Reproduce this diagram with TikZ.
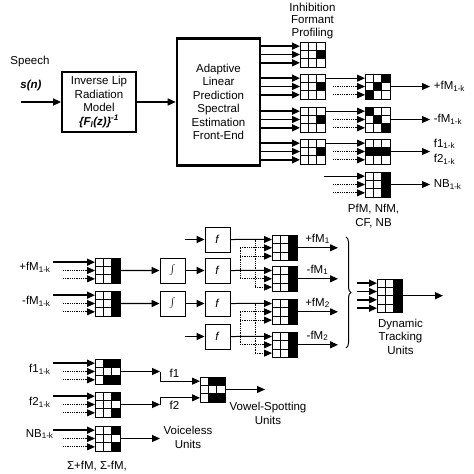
\documentclass[tikz,border=0pt]{standalone}
\usepackage{fontspec}
\setmainfont{Liberation Sans}
\usetikzlibrary{arrows.meta,positioning,decorations.pathreplacing}

% one 3-column unit of cells, named #1, top left corner at (#2,#3), #4 rows, black cells #5
\newcommand{\cw}{8.333}
\newcommand{\unitgrid}[5]{%
  \begin{scope}[shift={(#2,#3)}]
    \foreach \c/\r in {#5}
      \fill ({(\c-1)*\cw},{(\r-1)*\cw}) rectangle ({\c*\cw},{\r*\cw});
    \foreach \i in {1,2}
      \draw[cellline] ({\i*\cw},0) -- ({\i*\cw},{#4*\cw});
    \foreach \j in {2,...,#4}
      \draw[cellline] (0,{(\j-1)*\cw}) -- ({3*\cw},{(\j-1)*\cw});
    \node[gridbox, minimum height={#4*\cw pt}] (#1) at (0,0) {};
    \foreach \r in {1,...,#4} {
      \coordinate (#1-w\r) at (0,{(\r-0.5)*\cw});
      \coordinate (#1-e\r) at ({3*\cw},{(\r-0.5)*\cw});
    }
  \end{scope}}

\begin{document}
\begin{tikzpicture}[
    x=1pt, y=-1pt,
    font=\fontsize{11.5}{13.5}\selectfont,
    block/.style={draw, line width=1.8pt, align=center, inner sep=2pt},
    fbox/.style={draw, line width=0.8pt, minimum width=25pt, minimum height=25pt, inner sep=0pt},
    gridbox/.style={draw, line width=1pt, anchor=north west, minimum width=25pt, inner sep=0pt, outer sep=0pt},
    cellline/.style={line width=0.7pt},
    line/.style={-{Triangle[length=8pt,width=7pt]}, line width=1.4pt},
    link/.style={-{Triangle[length=8pt,width=7pt]}, line width=1pt},
    dotline/.style={-{Triangle[length=8pt,width=7pt]}, densely dotted, line width=0.8pt},
    tap/.style={densely dotted, line width=0.8pt}
]
\useasboundingbox (0,0) rectangle (474,474);
\clip (0,0) rectangle (474,474);

% front end
\node (speech) at (30,62) {Speech};
\node (sn) at (31,86) {\textbf{\textit{s(n)}}};
\coordinate (in) at (21,102);
\node[block, minimum width=74pt, minimum height=60pt] (lip) at (99,102)
  {Inverse Lip\\Radiation\\Model\\\textbf{\textit{\{F\textsubscript{l}(z)\}\textsuperscript{-1}}}};
\node[block, line width=2.6pt, minimum width=83pt, minimum height=127pt] (lpc) at (218.5,102)
  {Adaptive\\Linear\\Prediction\\Spectral\\Estimation\\Front-End};
\draw[line] (in) -- (lip);
\draw[line] (lip) -- (lpc);

% profiling units
\unitgrid{A1}{300}{42}{3}{3/2}
\unitgrid{A2}{300}{74}{3}{3/2}
\unitgrid{A3}{300}{107}{3}{3/2}
\unitgrid{A4}{300}{139}{3}{3/2}
\node[above=0pt of A1, align=center, font=\fontsize{11.5}{12.2}\selectfont] (prof) {Inhibition\\Formant\\Profiling};
\foreach \g in {A1,A2,A3,A4}
  \foreach \r in {1,2,3}
    \draw[line] (lpc.east |- \g-w\r) -- (\g-w\r);

\unitgrid{B1}{365}{74}{3}{3/1,2/2,1/3}
\unitgrid{B2}{365}{107}{3}{1/1,2/2,3/3}
\unitgrid{B3}{365}{139}{3}{1/2,2/2,3/2}
\unitgrid{B4}{365}{172}{3}{3/1,3/2,3/3}
\draw[link] (A2-e1) -- (B1-w1);
\draw[link] (A3-e1) -- (B2-w1);
\draw[link] (A4-e1) -- (B3-w1);
\coordinate (nbin) at (324,0);
\draw[link] (nbin |- B4-w1) -- (B4-w1);
\coordinate (dots) at (333,0);
\foreach \b in {B1,B2,B3,B4}
  \foreach \r in {2,3}
    \draw[dotline] (dots |- \b-w\r) -- (\b-w\r);

\coordinate (bout) at (430,0);
\draw[link] (B1-e2) -- (bout |- B1-e2) node[right] {+fM\textsubscript{1-k}};
\draw[link] (B2-e2) -- (bout |- B2-e2) node[right] {-fM\textsubscript{1-k}};
\draw[link] (B3-e2) -- (bout |- B3-e2) node[right, align=left] {f1\textsubscript{1-k}\\[2pt]f2\textsubscript{1-k}};
\draw[link] (B4-e2) -- (bout |- B4-e2) node[right] {NB\textsubscript{1-k}};
\node[below=4pt of B4, xshift=-4pt, align=center] (pfm) {PfM, NfM,\\CF, NB};

% dynamic tracking
\coordinate (solidx) at (53,0);
\coordinate (dotx) at (63,0);
\unitgrid{C1}{95}{258}{3}{3/1,3/2,3/3}
\unitgrid{C2}{95}{291}{3}{3/1,3/2,3/3}
\node[anchor=east] (inC1) at (54,267) {+fM\textsubscript{1-k}};
\node[anchor=east] (inC2) at (54,301) {-fM\textsubscript{1-k}};

\node[fbox] (int1) at (172.5,270.5) {$\int$};
\node[fbox] (int2) at (172.5,303.5) {$\int$};
\node[fbox] (f1) at (217.5,239.5) {\textit{f}};
\node[fbox] (f2) at (217.5,270.5) {\textit{f}};
\node[fbox] (f3) at (217.5,303.5) {\textit{f}};
\node[fbox] (f4) at (217.5,336.5) {\textit{f}};
\draw[line] (C1-e2) -- (int1);
\draw[line] (C2-e2) -- (int2);
\draw[line] (int1) -- (f2);
\draw[line] (int2) -- (f3);
\coordinate (fin) at (185,0);
\draw[line] (fin |- f1) -- (f1);
\draw[line] (fin |- f4) -- (f4);

\unitgrid{D1}{272}{235.3}{3}{3/1,3/2,3/3}
\unitgrid{D2}{272}{266.3}{3}{3/1,3/2,3/3}
\unitgrid{D3}{272}{299.3}{3}{3/1,3/2,3/3}
\unitgrid{D4}{272}{332.3}{3}{3/1,3/2,3/3}
\coordinate (xa) at (240,0);
\coordinate (xb) at (255,0);
\foreach \fa/\fb/\da/\db in {f1/f2/D1/D2, f3/f4/D3/D4} {
  \draw[link] (\fa.east) -- (\da-w1);
  \draw[link] (\fb.east) -- (\db-w1);
  \draw[tap] (xb |- \fa.east) -- (xb |- \db-w3);
  \draw[tap] (xa |- \da-w2) -- (xa |- \db-w2);
  \draw[dotline] (xa |- \da-w2) -- (\da-w2);
  \draw[dotline] (xa |- \da-w3) -- (\da-w3);
  \draw[dotline] (xa |- \db-w2) -- (\db-w2);
  \draw[dotline] (xb |- \db-w3) -- (\db-w3);
}
\coordinate (dout) at (338,0);
\draw[link] (D1-e2) -- node[above] {+fM\textsubscript{1}} (dout |- D1-e2);
\draw[link] (D2-e2) -- node[above] {-fM\textsubscript{1}} (dout |- D2-e2);
\draw[link] (D3-e2) -- node[above] {+fM\textsubscript{2}} (dout |- D3-e2);
\draw[link] (D4-e2) -- node[above] {-fM\textsubscript{2}} (dout |- D4-e2);
\draw[line width=1pt, decorate, decoration={brace, amplitude=5pt}] (346,237) -- (346,348);

\unitgrid{E}{377}{279}{4}{3/1,3/2,3/3,3/4}
\coordinate (ein) at (357,0);
\foreach \r in {1,...,4}
  \draw[line] (ein |- E-w\r) -- (E-w\r);
\coordinate (eout) at (443,0);
\draw[line] (E.east) -- (eout |- E.east);
\node[below=3pt of E, xshift=11pt, align=center] (dyn) {Dynamic\\Tracking\\Units};

% vowel spotting and voiceless units
\unitgrid{G1}{95}{359}{3}{2/1,3/1,2/3,3/3}
\unitgrid{G2}{95}{392}{3}{3/1,3/3}
\unitgrid{G3}{95}{426}{3}{3/1,3/3}
\node[anchor=east] (inG1) at (54,369) {f1\textsubscript{1-k}};
\node[anchor=east] (inG2) at (54,402) {f2\textsubscript{1-k}};
\node[anchor=east] (inG3) at (57,434) {NB\textsubscript{1-k}};
\foreach \g in {C1,C2,G1,G2,G3} {
  \draw[line] (solidx |- \g-w1) -- (\g-w1);
  \draw[dotline] (dotx |- \g-w2) -- (\g-w2);
  \draw[dotline] (dotx |- \g-w3) -- (\g-w3);
}

\unitgrid{H}{200}{377}{3}{2/1,3/1,2/3,3/3}
\coordinate (gout) at (160,0);
\draw[link] (G1-e2) -- (gout |- G1-e2) coordinate (k1);
\draw[link] (k1) |- node[pos=0.68, above] {f1} (H-w1);
\draw[link] (G2-e2) -- (gout |- G2-e2) coordinate (k2);
\draw[link] (k2) |- node[pos=0.68, below] {f2} (H-w3);
\coordinate (hout) at (265,0);
\draw[link] (H-e2) -- (hout |- H-e2);
\node[align=center] (vsu) at (268,413.5) {Vowel-Spotting\\Units};
\draw[link] (G3-e2) -- (gout |- G3-e2);
\node[align=center] (vlu) at (188,437.5) {Voiceless\\Units};
\node (sums) at (97,466) {Σ+fM, Σ-fM,};
\end{tikzpicture}
\end{document}
